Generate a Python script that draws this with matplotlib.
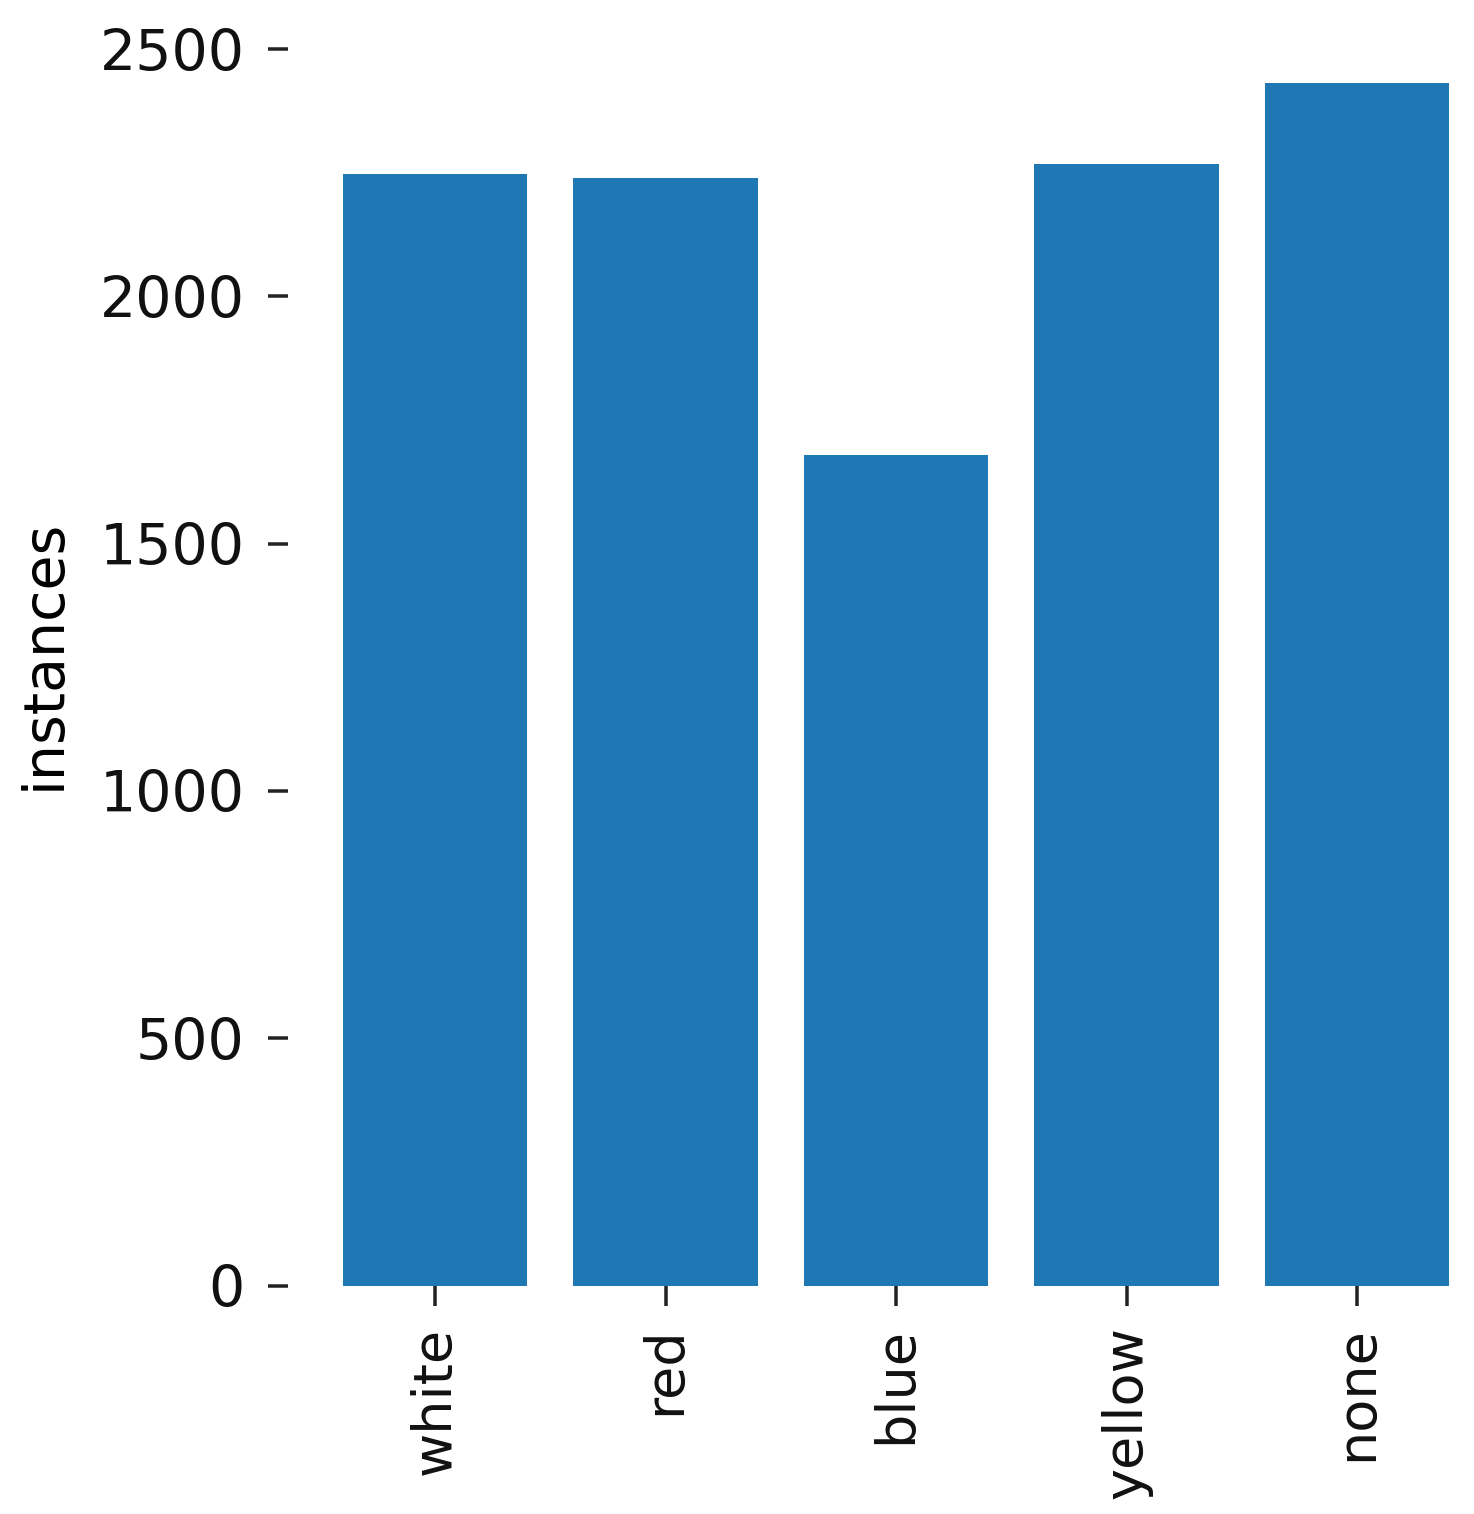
import matplotlib
matplotlib.use("Agg")
import matplotlib.pyplot as plt

# counts per colour class
colours = ["white", "red", "blue", "yellow", "none"]
counts = [2247, 2239, 1679, 2267, 2432]

W, H = 1474, 1514
DPI = 100
PX = 72.0 / DPI  # points per pixel

plt.rcParams["font.family"] = "DejaVu Sans"
plt.rcParams["font.size"] = 41

fig = plt.figure(figsize=(W / DPI, H / DPI), dpi=DPI)

# axes box placed in pixels (right edge runs past the image, as in the reference)
left, bottom = 287.5, 1285.5
width, height = 5.28 * 230.5, 1263.0
ax = fig.add_axes([left / W, (H - bottom) / H, width / W, height / H])

ax.bar(range(len(colours)), counts, width=0.8, color="#1f77b4")

ax.set_xticks(range(len(colours)))
ax.set_xticklabels(colours, rotation=90)
ax.set_yticks([0, 500, 1000, 1500, 2000, 2500])
ax.set_ylabel("instances", labelpad=28 * PX)

for s in ax.spines.values():
    s.set_visible(False)

ax.tick_params(axis="both", length=20 * PX, width=3.5 * PX, color="#222222",
               labelcolor="#111111")
ax.tick_params(axis="y", pad=23 * PX)
ax.tick_params(axis="x", pad=21 * PX, labelsize=39)

fig.savefig("out.png", dpi=DPI)
